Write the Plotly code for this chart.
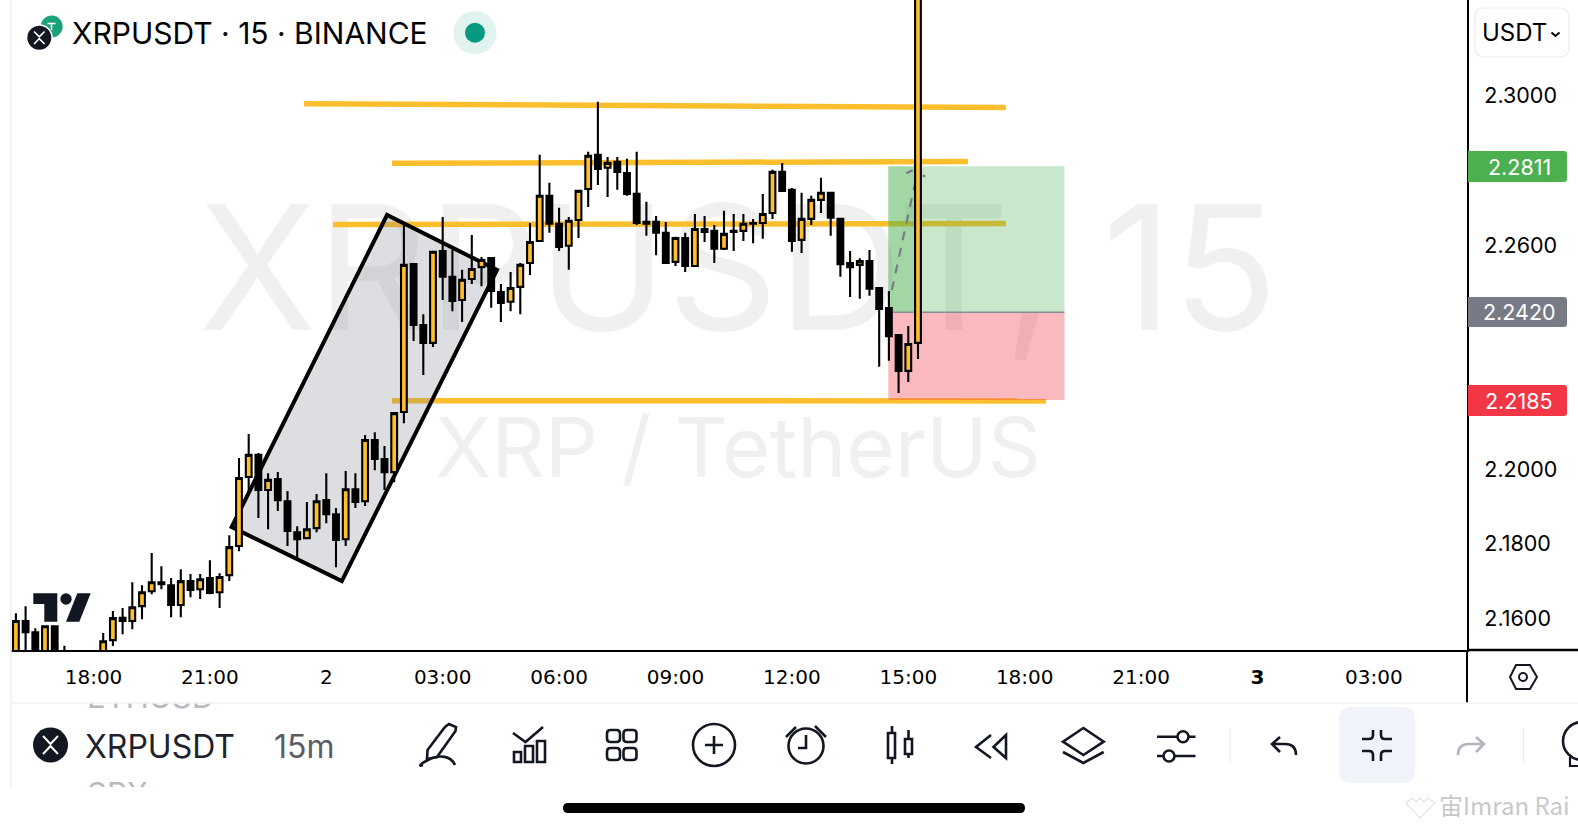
import plotly.graph_objects as go

W, H = 1578, 828

# 15m candles, bar 0 = 18:00 on day 1 (bars -2..0 are below the visible range)
bars = list(range(-8, -2)) + list(range(1, 86))
opens = [2.1488, 2.1593, 2.1563, 2.1488, 2.1579, 2.1510,
         2.1502, 2.1542, 2.1602, 2.1593, 2.1633, 2.1673, 2.1697, 2.1689, 2.1636, 2.1700,
         2.1678, 2.1708, 2.1670, 2.1716, 2.1794, 2.1979, 2.2038, 2.1944, 2.1973, 2.1914,
         2.1831, 2.1815, 2.1842, 2.1917, 2.1879, 2.1812, 2.1946, 2.1914, 2.2078, 2.2027,
         2.1992, 2.2153, 2.2549, 2.2386, 2.2338, 2.2584, 2.2515, 2.2453, 2.2509, 2.2541,
         2.2565, 2.2474, 2.2448, 2.2488, 2.2552, 2.2611, 2.2732, 2.2657, 2.2598, 2.2667,
         2.2750, 2.2842, 2.2807, 2.2823, 2.2793, 2.2737, 2.2662, 2.2662, 2.2633, 2.2555,
         2.2619, 2.2544, 2.2643, 2.2638, 2.2590, 2.2638, 2.2638, 2.2659, 2.2659, 2.2686,
         2.2796, 2.2748, 2.2614, 2.2670, 2.2721, 2.2740, 2.2670, 2.2552, 2.2547, 2.2557,
         2.2485, 2.2431, 2.2359, 2.2263, 2.2338]
highs = [2.1614, 2.1633, 2.1574, 2.1582, 2.1582, 2.1527,
         2.1561, 2.1620, 2.1628, 2.1697, 2.1689, 2.1775, 2.1740, 2.1708, 2.1732, 2.1719,
         2.1719, 2.1756, 2.1721, 2.1823, 2.2030, 2.2094, 2.2043, 2.1989, 2.1992, 2.1941,
         2.1847, 2.1912, 2.1933, 2.1989, 2.1896, 2.1995, 2.1989, 2.2091, 2.2099, 2.2062,
         2.2153, 2.2654, 2.2552, 2.2415, 2.2584, 2.2675, 2.2587, 2.2534, 2.2627, 2.2568,
         2.2568, 2.2496, 2.2528, 2.2552, 2.2659, 2.2842, 2.2767, 2.2700, 2.2675, 2.2748,
         2.2850, 2.2984, 2.2836, 2.2836, 2.2831, 2.2850, 2.2716, 2.2678, 2.2662, 2.2622,
         2.2633, 2.2683, 2.2678, 2.2654, 2.2692, 2.2683, 2.2683, 2.2670, 2.2737, 2.2802,
         2.2820, 2.2753, 2.2740, 2.2732, 2.2780, 2.2740, 2.2670, 2.2584, 2.2565, 2.2587,
         2.2488, 2.2477, 2.2359, 2.2383, 2.3310]
lows = [2.1461, 2.1502, 2.1456, 2.1475, 2.1467, 2.1467,
        2.1483, 2.1526, 2.1558, 2.1571, 2.1598, 2.1665, 2.1678, 2.1603, 2.1603, 2.1657,
        2.1652, 2.1665, 2.1628, 2.1700, 2.1780, 2.1936, 2.1869, 2.1839, 2.1888, 2.1794,
        2.1761, 2.1815, 2.1831, 2.1855, 2.1737, 2.1794, 2.1896, 2.1901, 2.1997, 2.1944,
        2.1965, 2.2123, 2.2343, 2.2252, 2.2327, 2.2453, 2.2423, 2.2394, 2.2496, 2.2490,
        2.2432, 2.2394, 2.2423, 2.2415, 2.2520, 2.2611, 2.2633, 2.2584, 2.2534, 2.2619,
        2.2702, 2.2761, 2.2729, 2.2748, 2.2732, 2.2654, 2.2625, 2.2573, 2.2552, 2.2544,
        2.2528, 2.2544, 2.2608, 2.2552, 2.2587, 2.2584, 2.2611, 2.2605, 2.2617, 2.2670,
        2.2742, 2.2582, 2.2579, 2.2654, 2.2686, 2.2625, 2.2515, 2.2461, 2.2456, 2.2464,
        2.2274, 2.2290, 2.2204, 2.2233, 2.2295]
closes = [2.1593, 2.1563, 2.1475, 2.1579, 2.1488, 2.1488,
          2.1539, 2.1601, 2.1593, 2.1630, 2.1670, 2.1697, 2.1692, 2.1636, 2.1700, 2.1676,
          2.1705, 2.1668, 2.1711, 2.1791, 2.1976, 2.2038, 2.1944, 2.1971, 2.1917, 2.1834,
          2.1812, 2.1839, 2.1914, 2.1879, 2.1810, 2.1946, 2.1912, 2.2078, 2.2027, 2.1992,
          2.2150, 2.2547, 2.2386, 2.2338, 2.2582, 2.2515, 2.2450, 2.2507, 2.2536, 2.2560,
          2.2477, 2.2445, 2.2485, 2.2547, 2.2608, 2.2732, 2.2657, 2.2595, 2.2665, 2.2745,
          2.2839, 2.2804, 2.2820, 2.2796, 2.2737, 2.2659, 2.2657, 2.2633, 2.2552, 2.2619,
          2.2544, 2.2643, 2.2635, 2.2590, 2.2630, 2.2635, 2.2657, 2.2657, 2.2683, 2.2796,
          2.2745, 2.2611, 2.2670, 2.2721, 2.2740, 2.2673, 2.2549, 2.2541, 2.2557, 2.2483,
          2.2429, 2.2356, 2.2263, 2.2335, 2.3310]

time_ticks = [0, 12, 24, 36, 48, 60, 72, 84, 96, 108, 120, 132]
time_labels = ["18:00", "21:00", "2", "03:00", "06:00", "09:00", "12:00", "15:00",
               "18:00", "21:00", "<b>3</b>", "03:00"]
price_ticks = [2.30, 2.26, 2.20, 2.18, 2.16]

# drawings on the chart: (bar, price) pairs
level_lines = [[(21.7, 2.29786), (94.07, 2.29681)],
               [(30.77, 2.28190), (90.16, 2.28238)],
               [(24.69, 2.26553), (94.07, 2.26575)],
               [(30.77, 2.21832), (98.2, 2.21824)]]
channel = [(14.25, 2.18449), (30.26, 2.26805), (41.6, 2.25332), (25.6, 2.17)]
trade_left, trade_mid, trade_right = 81.94, 85.0, 100.1
target_price, entry_price, stop_price = 2.2811, 2.2420, 2.2185
projection = [(82.3, 2.24797), (85.0, 2.2801)]
arrow_head = [(83.8, 2.27922), (85.0, 2.28077), (85.7, 2.27823)]

price_tags = [("2.2811", "#4CAF50", 151, 182), ("2.2420", "#787B86", 297, 327), ("2.2185", "#F23645", 385, 416)]

GOLD = "#FFBE2E"
LEVEL = "#FBBF2D"
INK = "#131722"
FONT = "Inter"

shapes = []
annotations = []


def chart_shape(**kw):
    shapes.append(dict(xref="x2", yref="y2", layer="below", **kw))


def path(d, color=INK, width=2.6, fill=None):
    shapes.append(dict(type="path", path=d, xref="x", yref="y", layer="above",
                       line=dict(color=color, width=width), fillcolor=fill or "rgba(0,0,0,0)"))


def circle(cx, cy, r, color=INK, width=2.6, fill=None):
    shapes.append(dict(type="circle", x0=cx - r, x1=cx + r, y0=cy - r, y1=cy + r, xref="x", yref="y",
                       layer="above", line=dict(color=color, width=width), fillcolor=fill or "rgba(0,0,0,0)"))


def round_rect(x0, y0, x1, y1, r):
    return (f"M {x0+r},{y0} L {x1-r},{y0} Q {x1},{y0} {x1},{y0+r} L {x1},{y1-r} Q {x1},{y1} {x1-r},{y1} "
            f"L {x0+r},{y1} Q {x0},{y1} {x0},{y1-r} L {x0},{y0+r} Q {x0},{y0} {x0+r},{y0} Z")


def label(x, y, text, size, color="#000000", anchor="left", family=FONT):
    annotations.append(dict(x=x, y=y, xref="x", yref="y", text=text, showarrow=False, xanchor=anchor,
                            yanchor="middle", font=dict(family=family, size=size, color=color)))


def points(pts):
    return "M " + " L ".join(f"{a},{b}" for a, b in pts)


# drawings sit under the candles
for line in level_lines:
    chart_shape(type="line", x0=line[0][0], y0=line[0][1], x1=line[1][0], y1=line[1][1],
                line=dict(color=LEVEL, width=5.5))
chart_shape(type="path", path=points(channel) + " Z", fillcolor="rgba(120,123,134,0.25)",
            line=dict(color="#000000", width=4))
chart_shape(type="rect", x0=trade_left, x1=trade_right, y0=entry_price, y1=target_price,
            fillcolor="rgba(76,175,80,0.3)", line=dict(width=0))
chart_shape(type="rect", x0=trade_left, x1=trade_mid, y0=entry_price, y1=target_price,
            fillcolor="rgba(76,175,80,0.3)", line=dict(width=0))
chart_shape(type="rect", x0=trade_left, x1=trade_right, y0=stop_price, y1=entry_price,
            fillcolor="rgba(242,54,69,0.35)", line=dict(width=0))
chart_shape(type="line", x0=trade_left, x1=trade_right, y0=entry_price, y1=entry_price,
            line=dict(color="#8A8D96", width=1.5))
chart_shape(type="path", path=points(projection), line=dict(color="#787B86", width=2.2, dash="9px,8px"))
chart_shape(type="path", path=points(arrow_head), line=dict(color="#787B86", width=2.2, dash="7px,4px"))

# axis ends that run past the plot area
path("M 1467,650 L 1578,650", "#000000", 2.4)
path("M 1467,650 L 1467,703", "#000000", 2)
path("M 11,0 L 11,787", "#EEEEF0", 1.5)
path("M 11,703 L 1578,703", "#EEF0F4", 1.5)

# TradingView mark
path("M 33.3,593.3 L 57.3,593.3 L 57.3,621.7 L 44.3,621.7 L 44.3,604 L 33.3,604 Z", INK, 0, INK)
circle(66, 599, 5.7, INK, 0, INK)
path("M 77.3,593.3 L 90.7,593.3 L 79.3,621.7 L 66,621.7 Z", INK, 0, INK)

# header
circle(51.7, 26.5, 11, "#1BA27A", 0, "#1BA27A")
path("M 47.5,23.5 L 55.5,23.5 M 51.5,23.5 L 51.5,30", "#FFFFFF", 1.6)
circle(39.3, 37.7, 13.5, "#FFFFFF", 0, "#FFFFFF")
circle(39.3, 37.7, 12, INK, 0, INK)
path("M 34,31.5 L 39.3,36.8 L 44.6,31.5 M 34,44 L 39.3,38.7 L 44.6,44", "#FFFFFF", 1.6)
label(69.5, 33, "XRPUSDT · 15 · BINANCE", 30)
circle(475, 32.7, 21.5, "#E0F3EF", 0, "#E0F3EF")
circle(475, 32.7, 10, "#089981", 0, "#089981")

# right scale
path(round_rect(1475, 8, 1569, 57, 9), "#EBECEF", 1.2)
label(1480, 32, "USDT", 24)
path("M 1551.5,32.5 L 1555.5,36 L 1559.5,32.5", "#000000", 2)
for text, color, y0, y1 in price_tags:
    path(f"M 1468,{y0} L 1564,{y0} Q 1567,{y0} 1567,{y0+3} L 1567,{y1-3} Q 1567,{y1} 1564,{y1} L 1468,{y1} Z",
         color, 0, color)
    label(1519, (y0 + y1) / 2, text, 21.5, "#FFFFFF", "center")
path("M 1516,665 L 1530,665 L 1537,677 L 1530,689 L 1516,689 L 1510,677 Z", "#131722", 2)
circle(1523, 677, 4, "#131722", 2)

# bottom toolbar
circle(50.5, 745, 17.5, INK, 0, INK)
path("M 43,736 L 50.5,744 L 58,736 M 43,754 L 50.5,746 L 58,754", "#FFFFFF", 2)
label(83, 746, "XRPUSDT", 32, "#1E222D")
label(272, 746, "15m", 32, "#5A5D66")
# pen
path("M 427.5,750 L 445,727 L 449,724 L 456,727 L 455.5,731 L 437,757 L 427,759 Z")
path("M 455,765 C 451,756 440,754 428,760 C 420,764 418,767 423,765")
# chart
path("M 513,733 L 525.5,742 L 543,727")
path("M 514,752 L 521,752 L 521,762 L 514,762 Z M 525,746 L 533,746 L 533,762 L 525,762 Z "
     "M 537,741 L 545,741 L 545,762 L 537,762 Z")
# grid
for x0, y0 in [(607, 730), (623.5, 730), (607, 748), (623.5, 748)]:
    path(round_rect(x0, y0, x0 + 13, y0 + 12, 3.5))
# add
circle(714, 745, 21)
path("M 705,745 L 723,745 M 714,736 L 714,754")
# alarm
circle(806, 746, 17.5)
path("M 806,735 L 806,748 L 798,748 M 815,726 L 826,737 M 786,737 L 796,727")
# candle
path("M 888,733 L 895,733 L 895,758 L 888,758 Z M 892,726 L 892,733 M 892,758 L 892,764 "
     "M 905,739 L 912,739 L 912,754 L 905,754 Z M 908.5,730 L 908.5,739 M 908.5,754 L 908.5,758")
# replay
path("M 991,735 L 976,747 L 991,758 M 1006,735 L 993.5,747 L 1006,758 Z")
# layers
path("M 1083.4,728 L 1103.7,741.7 L 1083.4,755 L 1063,741.7 Z M 1063,752 L 1083.4,763 L 1103.7,752")
# settings
path("M 1157,736.7 L 1195.5,736.7 M 1157,756 L 1195.5,756")
circle(1183, 736.7, 5.5, INK, 2.6, "#FFFFFF")
circle(1169, 756, 5.5, INK, 2.6, "#FFFFFF")
path("M 1230,728 L 1230,763", "#EEEEF0", 1.2)
# undo
path("M 1280,737 L 1272,744 L 1280,752 M 1272,744 L 1285,744 Q 1296,744 1296,755")
# compress button
path(round_rect(1339, 707, 1415, 783, 13), "#F0F3FA", 0, "#F0F3FA")
path("M 1362,739 L 1369,739 Q 1373,739 1373,735 L 1373,730 M 1392,739 L 1385,739 Q 1381,739 1381,735 L 1381,730 "
     "M 1362,751 L 1369,751 Q 1373,751 1373,755 L 1373,761 M 1392,751 L 1385,751 Q 1381,751 1381,755 L 1381,761")
# redo
path("M 1476,737 L 1484,744 L 1476,752 M 1484,744 L 1469,744 Q 1458,744 1458,755", "#B2B5BE")
path("M 1523.6,728 L 1523.6,763", "#EEEEF0", 1.2)
# bulb
circle(1582, 741, 19)
path("M 1570,757 L 1570,766 L 1578,766", INK, 2.2)

# home bar and reposted watermark
path(round_rect(563, 803, 1025, 813, 5), "#000000", 0, "#000000")
path("M 1406,803 L 1412,798 L 1416,802 L 1420,798 L 1424,802 L 1428,798 L 1435,803 L 1420,818 Z", "#D8D8D8", 1)
label(1437, 804, "宙Imran Rai", 24, "#C8C8C8", family="Noto Sans CJK SC")

fig = go.Figure()

# watermark lives in the page-sized subplot that is drawn first, so the candles cover it
fig.add_trace(go.Scatter(x=[738, 738], y=[287, 456], mode="text", text=["XRPUSDT, 15", "XRP / TetherUS"],
                         textposition="middle center", xaxis="x", yaxis="y", hoverinfo="skip", showlegend=False,
                         textfont=dict(family=FONT, size=[173, 83], color="#F0F0F1")))
fig.add_trace(go.Candlestick(x=bars, open=opens, high=highs, low=lows, close=closes, xaxis="x2", yaxis="y2",
                             increasing=dict(fillcolor=GOLD, line=dict(color="#000000", width=2.1)),
                             decreasing=dict(fillcolor="#000000", line=dict(color="#000000", width=2.1)),
                             whiskerwidth=0, showlegend=False))
# symbols scrolled half out of the toolbar strip
fig.add_trace(go.Scatter(x=[87, 87], y=[700, 797], mode="text", text=["ETHUSD", "SPX"], textposition="middle right",
                         xaxis="x3", yaxis="y3", hoverinfo="skip", showlegend=False, cliponaxis=True,
                         textfont=dict(family=FONT, size=31, color="#B8BAC0")))

hidden = dict(visible=False, fixedrange=True)
fig.update_layout(
    width=W, height=H, margin=dict(l=0, r=0, t=0, b=0), paper_bgcolor="#FFFFFF", plot_bgcolor="rgba(0,0,0,0)",
    showlegend=False, shapes=shapes, annotations=annotations, boxgap=0.15,
    xaxis=dict(domain=[0, 1], range=[0, W], anchor="y", **hidden),
    yaxis=dict(domain=[0, 1], range=[H, 0], anchor="x", **hidden),
    xaxis2=dict(domain=[11 / W, 1467 / W], range=[-8.505, 141.6], anchor="y2", rangeslider=dict(visible=False),
                tickmode="array", tickvals=time_ticks, ticktext=time_labels, showgrid=False, zeroline=False,
                showline=True, linecolor="#000000", linewidth=2.4, ticks="outside", ticklen=8,
                tickcolor="rgba(0,0,0,0)", tickfont=dict(family="DejaVu Sans", size=20, color="#000000")),
    yaxis2=dict(domain=[1 - 650 / H, 1], range=[2.15155, 2.32563], anchor="x2", side="right",
                tickmode="array", tickvals=price_ticks, tickformat=".4f", showgrid=False, zeroline=False,
                showline=True, linecolor="#000000", linewidth=2, ticks="outside", ticklen=11,
                tickcolor="rgba(0,0,0,0)", tickfont=dict(family=FONT, size=21.5, color="#000000")),
    xaxis3=dict(domain=[0, 1], range=[0, W], anchor="y3", **hidden),
    yaxis3=dict(domain=[1 - 787 / H, 1 - 703 / H], range=[787, 703], anchor="x3", **hidden),
)

fig.write_html("out.html", config={"displayModeBar": False},
               post_script="document.body.style.margin='0';document.body.style.overflow='hidden';")
